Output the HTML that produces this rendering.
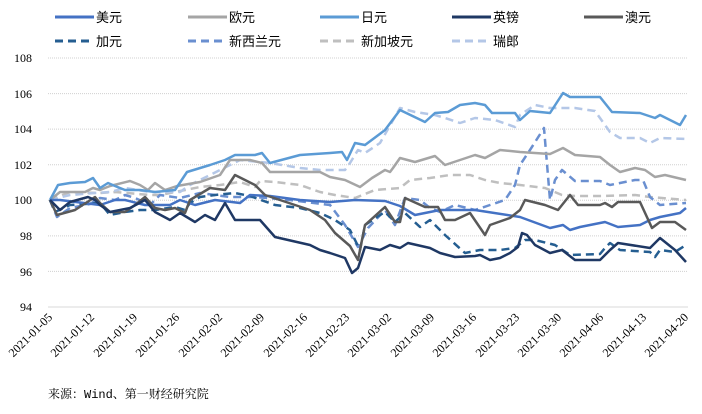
<!DOCTYPE html><html><head><meta charset="utf-8"><style>body{margin:0;background:#fff}svg{display:block}</style></head><body>
<svg width="702" height="414" xmlns="http://www.w3.org/2000/svg" font-family="'Liberation Serif','Noto Serif CJK SC',serif">
<g font-family="'Liberation Sans','Noto Sans CJK SC',sans-serif" font-size="13" fill="#000">
<line x1="55" y1="17" x2="94" y2="17" stroke="#4472C4" stroke-width="3"/><text x="96" y="22">美元</text>
<line x1="188" y1="17" x2="227" y2="17" stroke="#A5A5A5" stroke-width="3"/><text x="229" y="22">欧元</text>
<line x1="320" y1="17" x2="359" y2="17" stroke="#5B9BD5" stroke-width="3"/><text x="361" y="22">日元</text>
<line x1="452" y1="17" x2="491" y2="17" stroke="#1F3864" stroke-width="3"/><text x="493" y="22">英镑</text>
<line x1="584" y1="17" x2="623" y2="17" stroke="#595959" stroke-width="3"/><text x="625" y="22">澳元</text>
<line x1="55" y1="41" x2="94" y2="41" stroke="#255E91" stroke-width="3" stroke-dasharray="8,5"/><text x="96" y="46">加元</text>
<line x1="188" y1="41" x2="227" y2="41" stroke="#6A8FD0" stroke-width="3" stroke-dasharray="8,5"/><text x="229" y="46">新西兰元</text>
<line x1="320" y1="41" x2="359" y2="41" stroke="#BFBFBF" stroke-width="3" stroke-dasharray="8,5"/><text x="361" y="46">新加坡元</text>
<line x1="452" y1="41" x2="491" y2="41" stroke="#B4C7E7" stroke-width="3" stroke-dasharray="8,5"/><text x="493" y="46">瑞郎</text>
</g>
<g stroke="#d0d0d0" stroke-width="1" stroke-dasharray="1,1">
<line x1="48" y1="58" x2="688" y2="58"/><line x1="48" y1="93.6" x2="688" y2="93.6"/><line x1="48" y1="129.1" x2="688" y2="129.1"/><line x1="48" y1="164.7" x2="688" y2="164.7"/><line x1="48" y1="200.3" x2="688" y2="200.3"/><line x1="48" y1="235.9" x2="688" y2="235.9"/><line x1="48" y1="271.4" x2="688" y2="271.4"/>
</g>
<line x1="48" y1="307" x2="688" y2="307" stroke="#d9d9d9"/>
<g font-size="12" text-anchor="end" fill="#000">
<text x="32" y="62">108</text><text x="32" y="98">106</text><text x="32" y="133">104</text><text x="32" y="169">102</text><text x="32" y="204">100</text><text x="32" y="240">98</text><text x="32" y="276">96</text><text x="32" y="311">94</text>
</g>
<g font-size="12" text-anchor="end" fill="#000">
<text transform="translate(53,318) rotate(-45)">2021-01-05</text>
<text transform="translate(95,318) rotate(-45)">2021-01-12</text>
<text transform="translate(138,318) rotate(-45)">2021-01-19</text>
<text transform="translate(180,318) rotate(-45)">2021-01-26</text>
<text transform="translate(223,318) rotate(-45)">2021-02-02</text>
<text transform="translate(265,318) rotate(-45)">2021-02-09</text>
<text transform="translate(308,318) rotate(-45)">2021-02-16</text>
<text transform="translate(350,318) rotate(-45)">2021-02-23</text>
<text transform="translate(392,318) rotate(-45)">2021-03-02</text>
<text transform="translate(435,318) rotate(-45)">2021-03-09</text>
<text transform="translate(477,318) rotate(-45)">2021-03-16</text>
<text transform="translate(520,318) rotate(-45)">2021-03-23</text>
<text transform="translate(562,318) rotate(-45)">2021-03-30</text>
<text transform="translate(604,318) rotate(-45)">2021-04-06</text>
<text transform="translate(647,318) rotate(-45)">2021-04-13</text>
<text transform="translate(689,318) rotate(-45)">2021-04-20</text>
</g>
<text x="48" y="398" font-size="12" fill="#000" font-family="'Liberation Mono','Noto Serif CJK SC',monospace">来源：Wind、第一财经研究院</text>
<g fill="none" stroke-width="2.5" stroke-linejoin="round">
<polyline stroke="#BFBFBF" stroke-dasharray="8,5" points="50,200 70,192 100,193 115,192 150,195 160,195 175,192 200,187 220,185 240,182 255,187 260,181 275,182 300,185 320,192 335,195 355,198 375,190 400,188 410,180 430,178 450,175 470,175 485,180 500,183 520,185 545,188 562,195 575,196 600,196 635,195 650,197 686,200"/>
<polyline stroke="#B4C7E7" stroke-dasharray="8,5" points="50,200 70,195 95,193 110,192 125,188 150,192 180,192 190,185 210,175 230,165 240,160 270,163 300,168 320,170 345,170 350,163 358,150 365,153 380,143 400,108 415,112 435,115 445,118 460,123 475,118 495,120 515,127 520,115 535,105 550,108 575,108 595,111 610,132 620,138 640,138 650,143 660,138 686,139"/>
<polyline stroke="#6A8FD0" stroke-dasharray="8,5" points="50,200 57,217 70,208 90,204 100,198 115,200 125,195 135,198 150,205 160,195 180,198 200,193 230,197 255,197 290,200 330,205 345,225 358,247 368,228 385,210 395,225 405,198 420,200 430,208 440,212 455,205 475,210 490,205 505,200 515,185 520,165 530,150 544,128 550,200 555,180 562,170 575,181 600,181 610,185 635,180 643,180 650,197 660,205 686,203"/>
<polyline stroke="#255E91" stroke-dasharray="8,5" points="50,200 55,212 70,205 100,203 110,215 125,212 140,210 155,210 175,207 185,210 190,203 200,197 215,195 235,193 250,196 275,205 300,208 320,213 335,220 350,230 360,250 365,225 380,215 385,212 395,222 405,213 420,227 430,220 445,235 465,253 480,250 500,250 515,248 525,240 535,240 555,245 570,255 600,254 605,248 610,243 620,250 650,252 655,257 660,250 675,252 686,245"/>
<polyline stroke="#A5A5A5" points="50,200 60,192 85,192 93,188 100,190 110,186 130,181 140,185 148,190 155,183 165,190 177,186 200,182 220,175 230,160 250,160 262,163 270,172 300,172 320,172 330,177 345,180 360,187 372,178 385,170 390,172 393,168 400,158 415,162 435,156 445,165 460,160 475,155 485,158 500,150 520,152 550,154 563,148 575,155 600,157 610,165 620,172 635,168 645,170 655,177 665,175 686,180"/>
<polyline stroke="#5B9BD5" points="50,200 58,185 70,183 85,182 93,178 100,188 108,183 115,186 125,190 140,190 155,192 175,190 187,172 210,165 225,160 235,155 255,155 262,153 270,163 300,155 330,153 342,152 347,160 355,143 365,145 385,130 400,110 425,122 435,113 448,112 460,105 475,103 485,105 492,113 515,113 520,120 530,111 550,113 563,93 570,97 600,97 612,112 640,113 655,118 660,115 680,125 686,115"/>
<polyline stroke="#4472C4" points="50,200 60,200 100,205 115,200 125,200 145,205 170,205 180,200 195,205 215,200 240,203 250,195 270,196 300,200 330,202 355,200 385,201 400,206 415,215 440,210 475,210 520,217 550,228 563,225 570,230 580,227 605,222 618,227 640,225 650,220 660,217 680,213 686,208"/>
<polyline stroke="#595959" points="50,200 57,215 75,210 95,197 100,203 110,212 125,212 135,205 145,197 155,208 165,210 175,208 185,213 190,200 210,188 225,190 235,175 245,180 255,185 265,195 280,200 310,210 325,220 335,233 350,246 358,260 365,225 385,207 395,222 400,222 405,198 425,207 438,207 445,220 455,220 470,213 485,235 490,225 510,218 520,210 525,200 545,205 558,210 570,195 578,205 600,205 605,203 612,207 618,202 640,202 652,228 660,222 675,222 686,230"/>
<polyline stroke="#1F3864" points="50,200 60,210 70,202 88,197 95,200 100,205 110,212 130,208 145,200 155,212 170,220 180,213 195,222 205,215 215,220 225,203 235,220 260,220 275,237 310,245 320,250 330,253 345,258 352,273 358,268 365,247 380,250 390,245 400,248 408,243 430,248 440,253 455,257 475,256 480,255 490,260 500,258 510,253 518,247 522,233 527,235 535,245 550,253 562,250 575,260 600,260 610,250 618,243 650,248 660,238 675,250 686,262"/>
</g>
</svg>
</body></html>
